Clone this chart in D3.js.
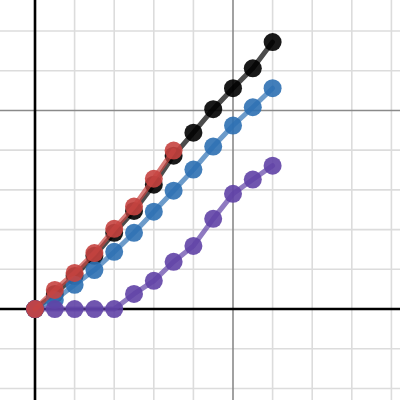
<!DOCTYPE html>
<html><head><meta charset="utf-8">
<script src="https://cdn.jsdelivr.net/npm/d3@7"></script>
<style>html,body{margin:0;padding:0;background:#fff;overflow:hidden}</style>
</head><body>
<svg id="c" width="400" height="400"></svg>
<script>
const xs = [0,0.5,1,1.5,2,2.5,3,3.5,4,4.5,5,5.5,6];
const blackY  = [0,0.38,0.83,1.34,1.92,2.47,3.13,3.86,4.44,5.03,5.56,6.06,6.72];
const blueY   = [0,0.23,0.61,0.98,1.44,1.92,2.45,2.98,3.51,4.09,4.62,5.08,5.56];
const purpleY = [0,0,0,0,0,0.38,0.71,1.19,1.59,2.27,2.90,3.26,3.61];
const redX    = [0,0.5,1,1.5,2,2.5,3,3.5];
const redY    = [0,0.48,0.91,1.41,2.02,2.58,3.28,3.99];

const seriesList = [
  {name:"black",  x: xs,   y: blackY,  color:"#000000"},
  {name:"blue",   x: xs,   y: blueY,   color:"#2d70b3"},
  {name:"purple", x: xs,   y: purpleY, color:"#6042a6"},
  {name:"red",    x: redX, y: redY,    color:"#c74440"}
];

const W = 400, H = 400;
const x = d3.scaleLinear().domain([-0.884, 9.217]).range([0, W]);
const y = d3.scaleLinear().domain([-2.29, 7.78]).range([H, 0]);
const svg = d3.select("#c");

const minorX = d3.range(-1, 11).filter(v => v % 5 !== 0);
const minorY = d3.range(-3, 9).filter(v => v % 5 !== 0);
const g = svg.append("g");
g.selectAll(".vx").data(minorX).enter().append("line")
  .attr("x1", d => x(d)).attr("x2", d => x(d)).attr("y1", 0).attr("y2", H)
  .attr("stroke", "#dcdcdc").attr("stroke-width", 1.6);
g.selectAll(".hy").data(minorY).enter().append("line")
  .attr("y1", d => y(d)).attr("y2", d => y(d)).attr("x1", 0).attr("x2", W)
  .attr("stroke", "#dcdcdc").attr("stroke-width", 1.6);
// major grid
g.selectAll(".mx").data([5]).enter().append("line")
  .attr("x1", d => x(d)).attr("x2", d => x(d)).attr("y1", 0).attr("y2", H)
  .attr("stroke", "#8a8a8a").attr("stroke-width", 1.6);
g.selectAll(".my").data([5]).enter().append("line")
  .attr("y1", d => y(d)).attr("y2", d => y(d)).attr("x1", 0).attr("x2", W)
  .attr("stroke", "#8a8a8a").attr("stroke-width", 1.6);
// axes
g.append("line").attr("x1", x(0)).attr("x2", x(0)).attr("y1", 0).attr("y2", H)
  .attr("stroke", "#000").attr("stroke-width", 2.6);
g.append("line").attr("y1", y(0)).attr("y2", y(0)).attr("x1", 0).attr("x2", W)
  .attr("stroke", "#000").attr("stroke-width", 2.6);

const line = d3.line().x(d => x(d[0])).y(d => y(d[1]));
seriesList.forEach(s => {
  const pts = s.x.map((v, i) => [v, s.y[i]]);
  const sg = svg.append("g");
  sg.append("path").datum(pts).attr("d", line)
    .attr("fill", "none").attr("stroke", s.color).attr("stroke-opacity", 0.7)
    .attr("stroke-width", 5).attr("stroke-linejoin", "round").attr("stroke-linecap", "round");
  sg.selectAll("circle").data(pts).enter().append("circle")
    .attr("cx", d => x(d[0])).attr("cy", d => y(d[1])).attr("r", 9)
    .attr("fill", s.color).attr("fill-opacity", 0.9);
});
</script>
</body></html>
